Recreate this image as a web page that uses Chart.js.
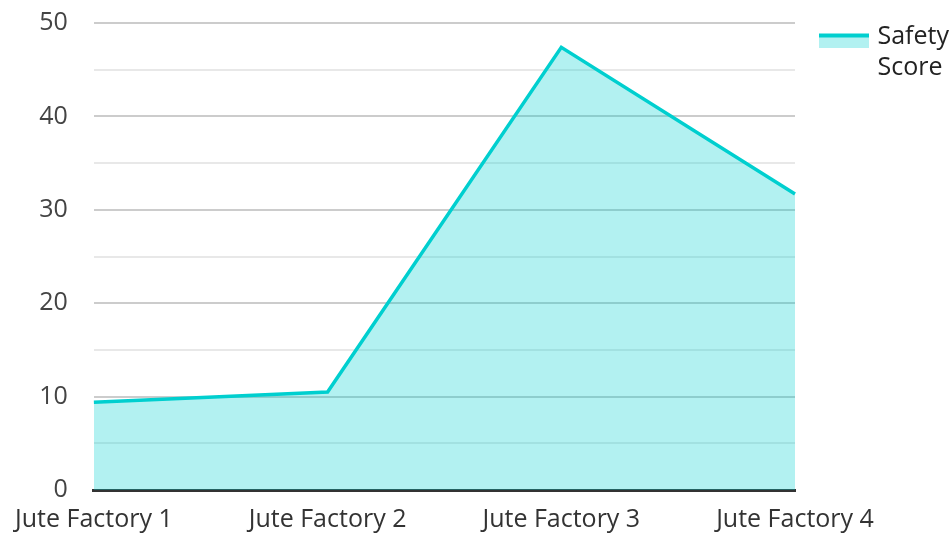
<!DOCTYPE html>
<html>
<head>
<meta charset="utf-8">
<script src="https://cdn.jsdelivr.net/npm/chart.js@4"></script>
<style>
  html, body { margin: 0; padding: 0; background: #fff; }
  #wrap { width: 952px; height: 534px; }
</style>
</head>
<body>
<div id="wrap"><canvas id="safetyChart"></canvas></div>
<script>
const factories = ['Jute Factory 1', 'Jute Factory 2', 'Jute Factory 3', 'Jute Factory 4'];
const safetyScores = [9.4, 10.5, 47.4, 31.7];
const seriesName = ['Safety', 'Score'];
const yMin = 0;
const yMax = 50;
const yStep = 5;

const lineColor = '#00CFCF';
const fillColor = 'rgba(0, 207, 207, 0.3)';
const fontFamily = '"Open Sans", sans-serif';

// legend sample: thick line on top of a filled strip (shifted a bit down/left)
function legendSample() {
  const c = document.createElement('canvas');
  c.width = 54;
  c.height = 22;
  const g = c.getContext('2d');
  g.fillStyle = fillColor;
  g.fillRect(4, 11, 50, 11);
  g.fillStyle = lineColor;
  g.fillRect(4, 8, 50, 4);
  return c;
}
const sample = legendSample();

const ctx = document.getElementById('safetyChart').getContext('2d');
const chart = new Chart(ctx, {
  type: 'line',
  data: {
    labels: factories,
    datasets: [{
      label: seriesName.join(' '),
      data: safetyScores,
      borderColor: lineColor,
      backgroundColor: fillColor,
      borderWidth: 3.5,
      fill: 'origin',
      tension: 0,
      pointRadius: 0
    }]
  },
  options: {
    responsive: true,
    maintainAspectRatio: false,
    animation: false,
    layout: { padding: { top: 0, left: 11, right: 0, bottom: 0 } },
    plugins: {
      tooltip: { enabled: false },
      legend: {
        position: 'right',
        align: 'start',
        maxWidth: 157,
        labels: {
          usePointStyle: true,
          pointStyleWidth: 46,
          color: '#222',
          font: { family: fontFamily, size: 25, lineHeight: 1.25 },
          padding: 24,
          generateLabels: function(chart) {
            return [{
              text: seriesName,
              pointStyle: sample,
              fillStyle: fillColor,
              strokeStyle: lineColor,
              lineWidth: 0,
              fontColor: '#222',
              datasetIndex: 0,
              hidden: false
            }];
          }
        }
      }
    },
    scales: {
      x: {
        offset: false,
        grid: { display: false, drawTicks: false },
        border: { display: true, color: '#333', width: 3 },
        ticks: {
          color: '#333',
          font: { family: fontFamily, size: 25 },
          padding: 15,
          maxRotation: 0
        },
        afterFit: function(scale) { scale.height = 44; }
      },
      y: {
        min: yMin,
        max: yMax,
        border: { display: false },
        grid: {
          drawTicks: false,
          lineWidth: 2,
          color: function(c) {
            return c.tick && c.tick.value % 10 === 0 ? '#cccccc' : '#e8e8e8';
          }
        },
        ticks: {
          stepSize: yStep,
          color: '#444',
          font: { family: fontFamily, size: 25 },
          padding: 26,
          callback: function(v) { return v % 10 === 0 ? v : ''; }
        },
        afterFit: function(scale) { scale.paddingTop = 23; }
      }
    }
  }
});
</script>
</body>
</html>
